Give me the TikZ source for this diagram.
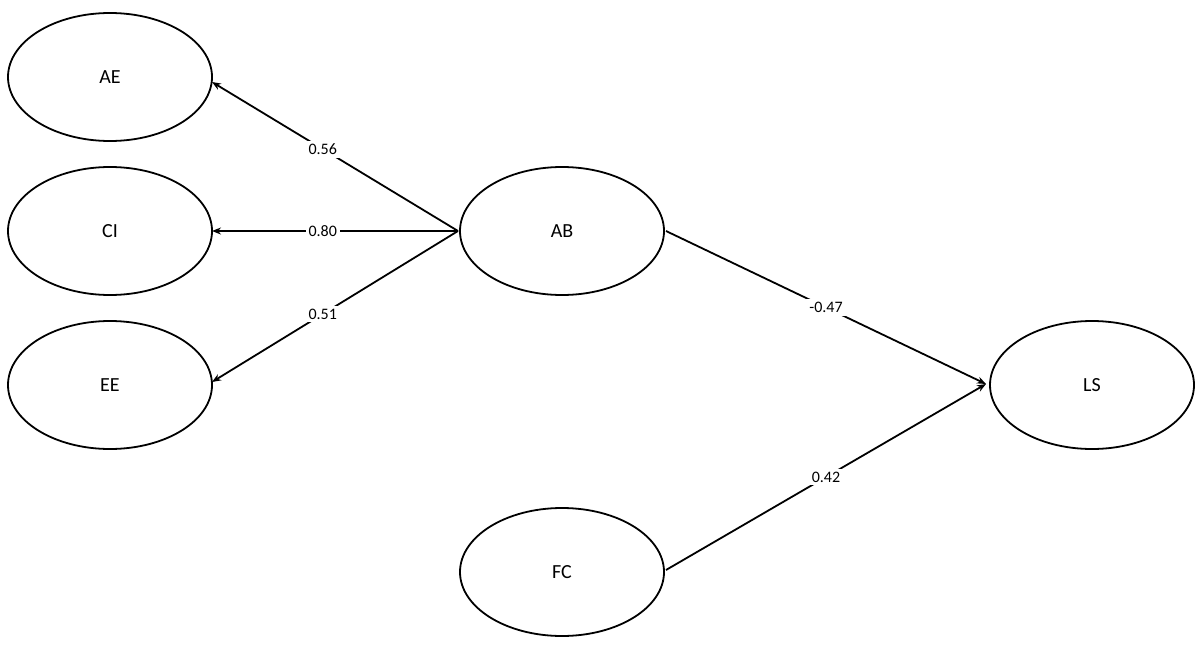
\documentclass[tikz,border=0pt]{standalone}
\usepackage{fontspec}
\setmainfont{Carlito}
\usetikzlibrary{arrows.meta,shapes.geometric}
\begin{document}
\begin{tikzpicture}[x=1pt,y=-1pt,
  latent/.style={draw,line width=1.8pt,ellipse,minimum width=204pt,minimum height=128pt,font=\fontsize{20}{24}\selectfont},
  path/.style={line width=1.8pt,-{Stealth[length=9pt,width=7pt]}},
  lbl/.style={fill=white,font=\fontsize{16}{19}\selectfont,inner sep=3pt}]
\useasboundingbox (0,0) rectangle (1200,645);
\node[latent] (AE) at (110,77) {AE};
\node[latent] (CI) at (110,231) {CI};
\node[latent] (EE) at (110,385) {EE};
\node[latent] (AB) at (562,231) {AB};
\node[latent] (LS) at (1092,385) {LS};
\node[latent] (FC) at (562,572) {FC};
\coordinate (ABl) at (458,231);
\coordinate (ABr) at (666,231);
\coordinate (FCr) at (666,570);
\coordinate (LSl) at (986,384);
\coordinate (AEr) at (212,82);
\coordinate (CIr) at (212,231);
\coordinate (EEr) at (212,382);
\draw[path] (ABl) -- node[lbl,pos=0.55] {0.56} (AEr);
\draw[path] (ABl) -- node[lbl,pos=0.55] {0.80} (CIr);
\draw[path] (ABl) -- node[lbl,pos=0.55] {0.51} (EEr);
\draw[path] (ABr) -- node[lbl,pos=0.5] {-0.47} (LSl);
\draw[path] (FCr) -- node[lbl,pos=0.5] {0.42} (LSl);
\end{tikzpicture}
\end{document}
